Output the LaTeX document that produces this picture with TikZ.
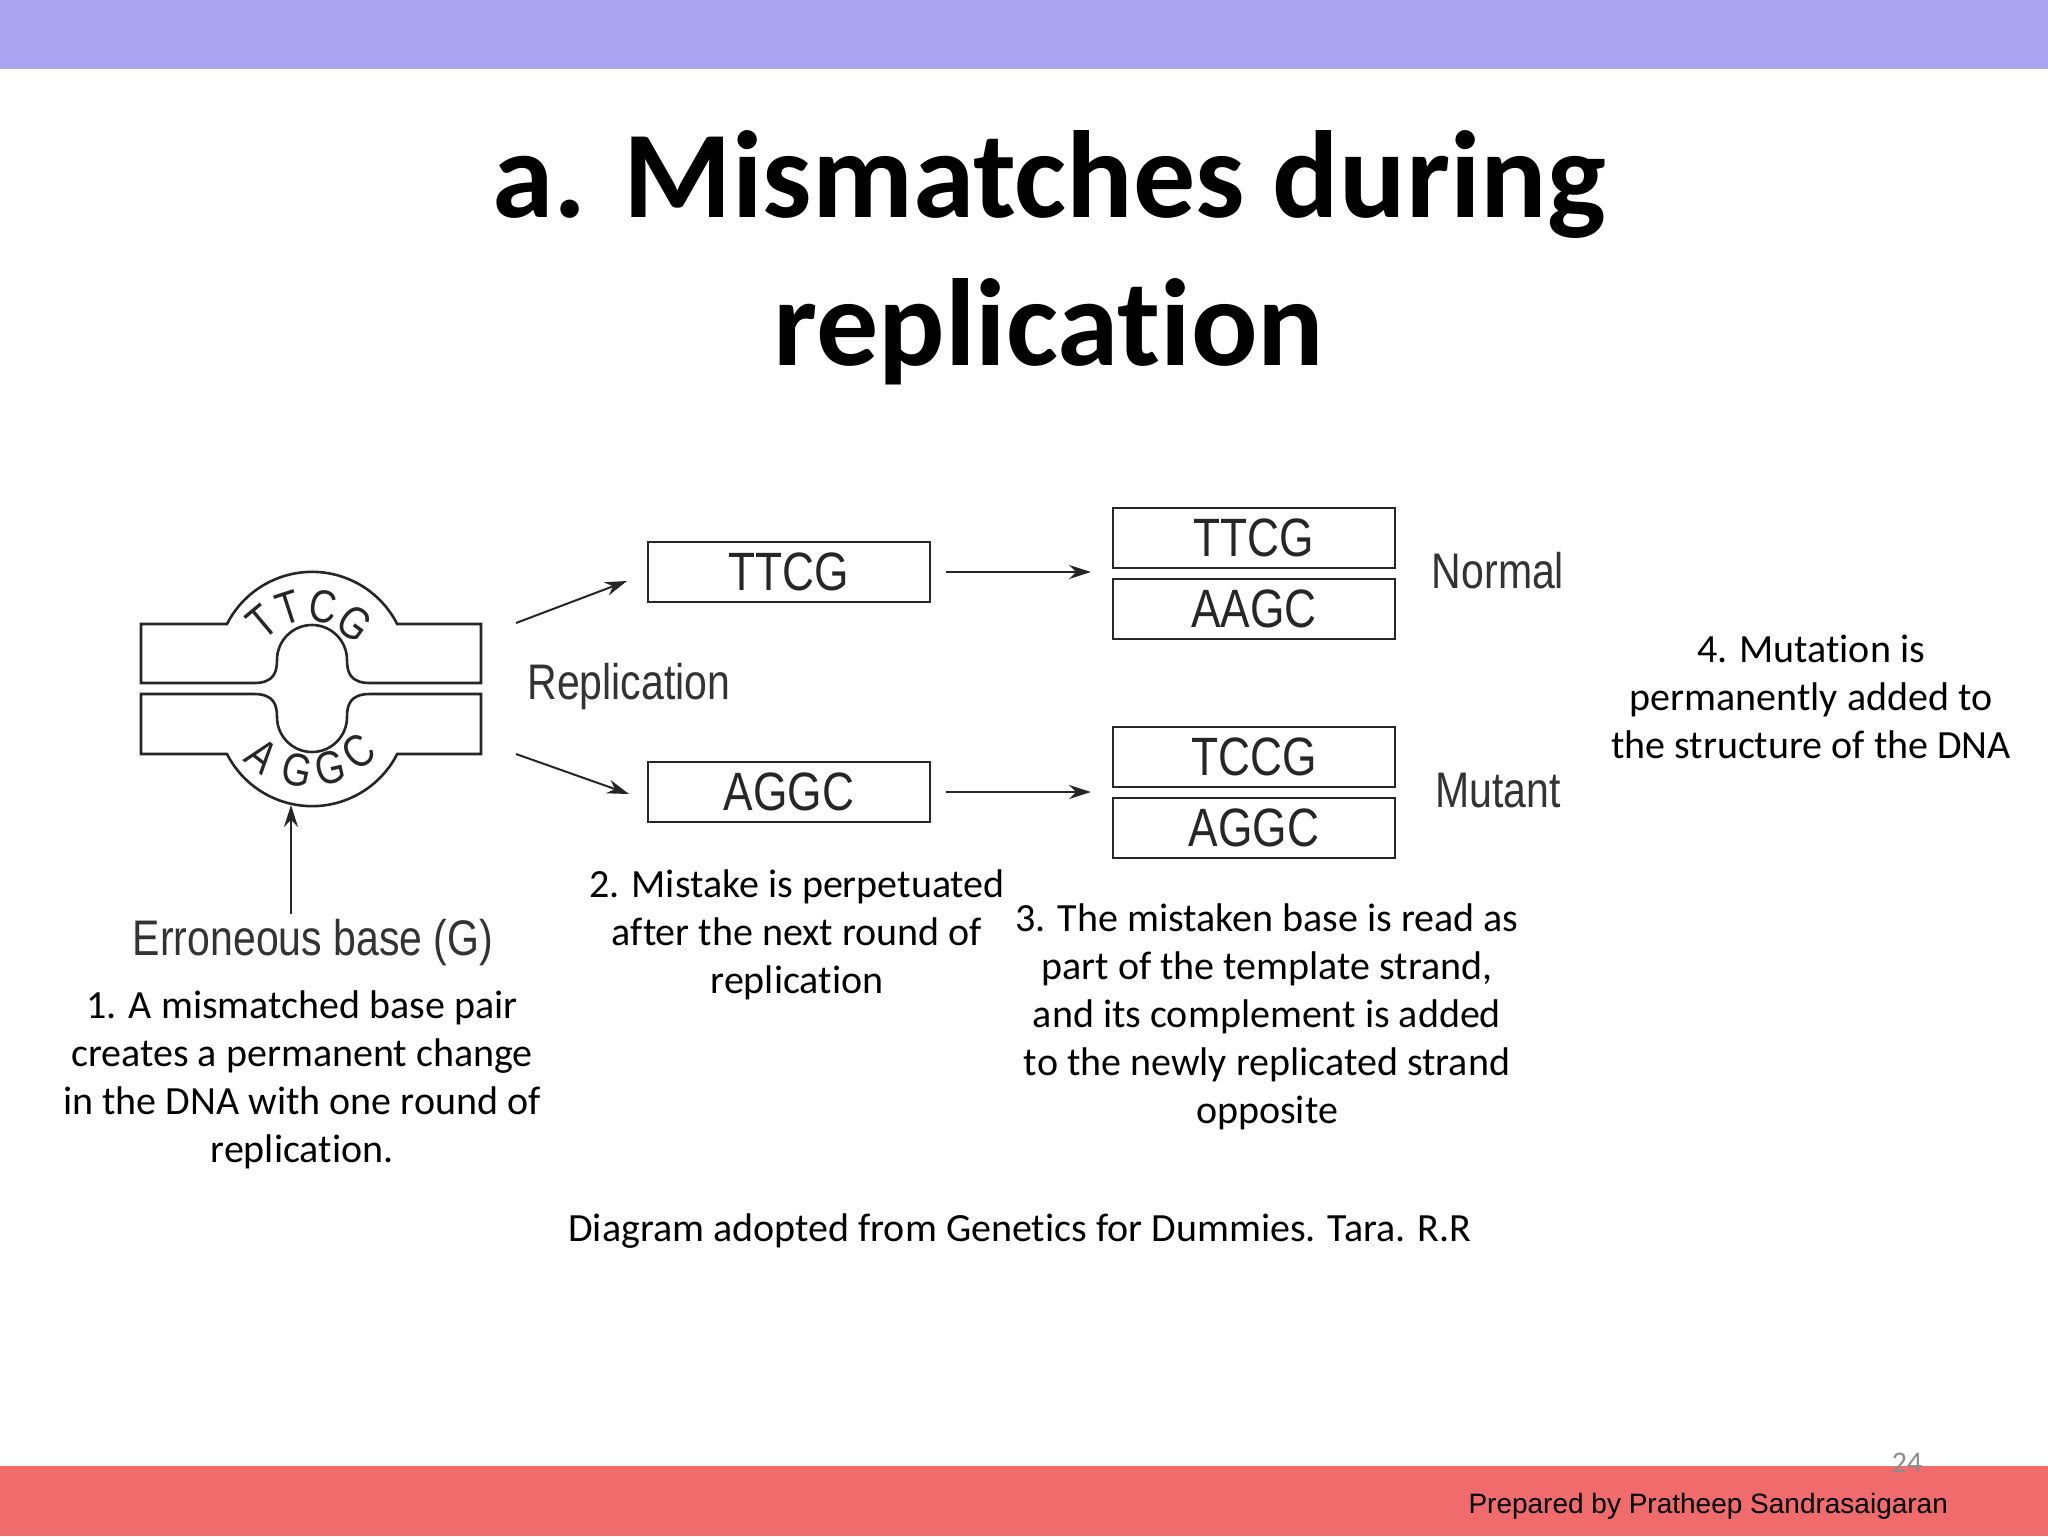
\documentclass[tikz,border=0pt]{standalone}
\usepackage{fontspec}
\setmainfont{Carlito}[Ligatures=NoCommon]
\newfontfamily\cond{Liberation Sans}[FakeStretch=0.82]
\newfontfamily\arial{Liberation Sans}
\usetikzlibrary{arrows.meta}
\definecolor{topbar}{HTML}{A9A5F3}
\definecolor{botbar}{HTML}{F06B6B}
\tikzset{
 strand/.style={draw=black!85,line width=1.3pt,fill=white},
 seqbox/.style={draw=black!85,line width=1.3pt,minimum width=141pt,minimum height=30pt,inner sep=0pt,font=\cond\fontsize{27}{30}\selectfont,text=black!85},
 lbl/.style={font=\cond\fontsize{25}{28}\selectfont,text=black!80},
 body/.style={align=center,font=\fontsize{20}{24}\selectfont},
 arr/.style={-{Stealth[length=11pt,width=7pt]},line width=1pt,draw=black!85},
 blet/.style={font=\cond\fontsize{23}{26}\selectfont,text=black!85,inner sep=0pt}
}
\begin{document}
\begin{tikzpicture}[x=0.5pt,y=-0.5pt]
\useasboundingbox (0,0) rectangle (2048,1536);
\fill[topbar] (0,0) rectangle (2048,69);
\fill[botbar] (0,1466) rectangle (2048,1536);
\node[font=\bfseries\fontsize{62}{74}\selectfont,align=center] (title) at (1049,258) {a. Mismatches during\\replication};
% bubble
\draw[strand] (141,624) -- (227,624) arc[start angle=-153,end angle=-27,radius=95.5] -- (481,624) -- (481,683) -- (370,683)
  .. controls (350,683) and (347,672) .. (347,660) arc[start angle=0,end angle=-180,radius=35]
  .. controls (277,672) and (274,683) .. (254,683) -- (141,683) -- cycle;
\draw[strand] (141,754) -- (227,754) arc[start angle=153,end angle=27,radius=95.5] -- (481,754) -- (481,694) -- (370,694)
  .. controls (350,694) and (347,705) .. (347,717) arc[start angle=0,end angle=180,radius=35]
  .. controls (277,705) and (274,694) .. (254,694) -- (141,694) -- cycle;
\node[blet,rotate=40] (t1) at (262,622) {T};
\node[blet,rotate=18] (t2) at (289,608) {T};
\node[blet,rotate=-8] (t3) at (323,607) {C};
\node[blet,rotate=-36] (t4) at (355,623) {G};
\node[blet,rotate=-38] (b1) at (262,756) {A};
\node[blet,rotate=-12] (b2) at (297,770) {G};
\node[blet,rotate=13] (b3) at (330,768) {G};
\node[blet,rotate=38] (b4) at (358,752) {C};
\coordinate (bub) at (291,805);
\node[lbl] (err) at (313,943) {Erroneous base (G)};
\draw[arr] (291,914) -- (bub);
\node[lbl] (rep) at (629,687) {Replication};
\node[seqbox] (s1) at (789,572) {TTCG};
\node[seqbox] (s2) at (789,792) {AGGC};
\coordinate (a1) at (516,623); \coordinate (a2) at (516,754);
\draw[arr] (a1) -- (627,581);
\draw[arr] (a2) -- (629,794);
\node[seqbox] (n1) at (1254,538) {TTCG};
\node[seqbox] (n2) at (1254,609) {AAGC};
\node[seqbox] (m1) at (1254,757) {TCCG};
\node[seqbox] (m2) at (1254,828) {AGGC};
\draw[arr] (946,572) -- (1091,572);
\draw[arr] (946,792) -- (1091,792);
\node[lbl] (nor) at (1498,571) {Normal};
\node[lbl] (mut) at (1498,791) {Mutant};
\node[body] (t1x) at (302,1080) {1. A mismatched base pair\\creates a permanent change\\in the DNA with one round of\\replication.};
\node[body] (t2x) at (797,935) {2. Mistake is perpetuated\\after the next round of\\replication};
\node[body] (t3x) at (1267,1017) {3. The mistaken base is read as\\part of the template strand,\\and its complement is added\\to the newly replicated strand\\opposite};
\node[body] (t4x) at (1811,697) {4. Mutation is\\permanently added to\\the structure of the DNA};
\node[body] (cit) at (1020,1231) {Diagram adopted from Genetics for Dummies. Tara. R.R};
\node[font=\fontsize{15}{18}\selectfont,text=black!45] (pg) at (1907,1463) {24};
\node[font=\arial\fontsize{14}{17}\selectfont,anchor=east] (foot) at (1955,1506) {Prepared by Pratheep Sandrasaigaran};
\end{tikzpicture}
\end{document}
